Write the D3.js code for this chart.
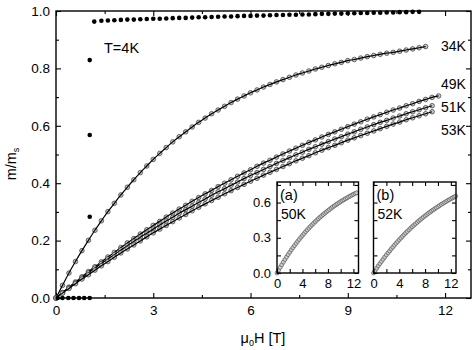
<!DOCTYPE html>
<html><head><meta charset="utf-8">
<script src="https://cdn.jsdelivr.net/npm/d3@7"></script>
<style>body{margin:0;background:#fff}svg{display:block;font-family:"Liberation Sans",Arial,sans-serif}</style>
</head><body><svg width="474" height="350"></svg>
<script>
// ---- data ----
// main panel: field grid step 0.2 T starting at 0
const mainStep = 0.2;
const m34K = [0,.044,.087,.127,.165,.201,.236,.269,.301,.330,.359,.386,.412,.437,.460,.483,.504,.524,.544,.562,.579,.596,.612,.627,.642,.655,.668,.681,.693,.704,.715,.725,.735,.744,.753,.761,.769,.777,.784,.791,.798,.804,.810,.816,.821,.827,.831,.836,.841,.845,.849,.853,.856,.860,.864,.868,.872,.876];
const m49K = [0,.019,.038,.056,.074,.092,.109,.126,.143,.159,.176,.192,.207,.223,.238,.253,.267,.282,.296,.310,.323,.337,.350,.363,.375,.388,.400,.412,.424,.436,.447,.459,.470,.480,.491,.502,.512,.522,.532,.542,.551,.561,.570,.579,.588,.597,.606,.614,.623,.631,.639,.647,.655,.662,.670,.677,.685,.692,.699,.704];
const m51K = [0,.018,.036,.053,.070,.087,.104,.120,.136,.151,.167,.182,.197,.212,.226,.240,.254,.268,.281,.295,.308,.320,.333,.345,.358,.370,.381,.393,.404,.416,.427,.437,.448,.458,.469,.479,.489,.499,.508,.518,.527,.536,.545,.554,.562,.571,.579,.588,.596,.604,.612,.619,.627,.634,.642,.649,.656,.663,.670];
const m53K = [0,.017,.033,.050,.066,.081,.097,.112,.127,.142,.157,.171,.185,.199,.213,.227,.240,.253,.266,.279,.291,.304,.316,.328,.340,.351,.363,.374,.385,.396,.407,.417,.428,.438,.448,.458,.468,.478,.487,.496,.506,.515,.524,.532,.541,.550,.558,.566,.574,.582,.590,.598,.606,.613,.621,.628,.635,.642,.649];
const curveLabels = ["34K","49K","51K","53K"];
// T = 4K (solid dots)
const h4K = [0.05,0.2,0.38,0.54,0.71,0.87,1.04,1.04,1.04,1.04,1.18,1.4,1.6,1.8,2.0,2.2,2.4,2.6,2.8,3.0,3.2,3.4,3.6,3.8,4.0,4.2,4.4,4.6,4.8,5.0,5.2,5.4,5.6,5.8,6.0,6.2,6.4,6.6,6.8,7.0,7.2,7.4,7.6,7.8,8.0,8.2,8.4,8.6,8.8,9.0,9.2,9.4,9.6,9.8,10.0,10.2,10.4,10.6,10.8,11.0,11.2];
const m4K = [0,0,0,0,0,0,0,.283,.568,.829,.963,.966,.967,.968,.969,.970,.970,.971,.972,.973,.973,.974,.975,.976,.976,.977,.978,.978,.979,.980,.981,.981,.982,.983,.983,.984,.984,.985,.986,.986,.987,.987,.988,.988,.989,.990,.990,.991,.991,.992,.992,.993,.993,.994,.994,.995,.995,.996,.996,.997,.997];
// insets: field grid step 0.25 T
const insetStep = 0.25;
const m50K = [0,.024,.048,.071,.093,.115,.136,.157,.177,.197,.216,.234,.252,.270,.287,.304,.320,.336,.352,.367,.382,.396,.410,.423,.437,.450,.462,.474,.486,.498,.509,.520,.531,.541,.552,.562,.571,.581,.590,.599,.608,.616,.624,.632,.640,.648,.655,.663,.670,.677,.683];
const m52K = [0,.021,.041,.061,.080,.099,.118,.136,.154,.171,.188,.205,.221,.237,.253,.268,.284,.298,.313,.327,.341,.354,.368,.381,.394,.406,.418,.430,.442,.454,.465,.476,.487,.497,.508,.518,.528,.537,.547,.556,.565,.574,.583,.592,.600,.608,.617,.624,.632,.640,.647,.654];
const mainXTicks = [0,3,6,9,12];
const mainYTicks = [0,0.2,0.4,0.6,0.8,1.0];
const insetXTicks = [0,4,8,12];
const insetYTicks = [0,0.3,0.6];

// ---- drawing ----
const svg = d3.select("svg");
const toPts = (arr, step) => arr.map((m,i)=>({h:i*step, m}));

function frame(g, xs, ys, opt){
  const [x0,x1]=xs.range(), [y0,y1]=ys.range();
  const style = sel => { sel.select(".domain").remove(); sel.attr("font-family",null).attr("font-size",opt.fs).selectAll("line").attr("stroke","#000").attr("stroke-width",1.1); sel.selectAll("text").attr("fill","#000"); };
  g.append("g").attr("transform",`translate(0,${y0})`).call(d3.axisBottom(xs).tickValues(opt.xMaj).tickSize(-opt.maj).tickPadding(opt.xpad).tickFormat(d3.format("d"))).call(style);
  g.append("g").attr("transform",`translate(0,${y0})`).call(d3.axisBottom(xs).tickValues(opt.xMin).tickSize(-opt.min).tickFormat("")).call(style);
  g.append("g").attr("transform",`translate(0,${y1})`).call(d3.axisTop(xs).tickValues(opt.xMaj).tickSize(-opt.maj).tickFormat("")).call(style);
  g.append("g").attr("transform",`translate(0,${y1})`).call(d3.axisTop(xs).tickValues(opt.xMin).tickSize(-opt.min).tickFormat("")).call(style);
  g.append("g").attr("transform",`translate(${x0},0)`).call(d3.axisLeft(ys).tickValues(opt.yMaj).tickSize(-opt.maj).tickPadding(opt.ypad).tickFormat(opt.showY?d3.format(".1f"):"")).call(style);
  g.append("g").attr("transform",`translate(${x0},0)`).call(d3.axisLeft(ys).tickValues(opt.yMin).tickSize(-opt.min).tickFormat("")).call(style);
  g.append("g").attr("transform",`translate(${x1},0)`).call(d3.axisRight(ys).tickValues(opt.yMaj).tickSize(-opt.maj).tickFormat("")).call(style);
  g.append("g").attr("transform",`translate(${x1},0)`).call(d3.axisRight(ys).tickValues(opt.yMin).tickSize(-opt.min).tickFormat("")).call(style);
  g.append("rect").attr("x",x0).attr("y",y1).attr("width",x1-x0).attr("height",y0-y1).attr("fill","none").attr("stroke","#000").attr("stroke-width",1.4);
}

// main panel
const x = d3.scaleLinear().domain([0,12.8]).range([56,471]);
const y = d3.scaleLinear().domain([0,1]).range([298,11]);
const main = svg.append("g");
frame(main, x, y, {xMaj:mainXTicks, xMin:[1.5,4.5,7.5,10.5], yMaj:mainYTicks, yMin:[0.1,0.3,0.5,0.7,0.9], maj:5, min:3, xpad:7, ypad:6, showY:true, fs:13.5});

const line = d3.line().x(d=>x(d.h)).y(d=>y(d.m)).curve(d3.curveMonotoneX);
[m34K,m49K,m51K,m53K].forEach(s=>{
  const pts = toPts(s, mainStep);
  main.append("g").selectAll("circle").data(pts).join("circle")
    .attr("cx",d=>x(d.h)).attr("cy",d=>y(d.m)).attr("r",2.3)
    .attr("fill","#c8c8c8").attr("stroke","#333").attr("stroke-width",0.7);
  main.append("path").attr("d",line(pts)).attr("fill","none").attr("stroke","#000").attr("stroke-width",1.2);
});
main.append("g").selectAll("circle").data(h4K.map((h,i)=>({h,m:m4K[i]}))).join("circle")
  .attr("cx",d=>x(d.h)).attr("cy",d=>y(d.m)).attr("r",2.3).attr("fill","#000");

main.append("text").attr("x",104).attr("y",53).attr("font-size",14.5).text("T=4K");
const labPos = [[441,51],[441,89],[441,112],[441,135]];
curveLabels.forEach((t,i)=>main.append("text").attr("x",labPos[i][0]).attr("y",labPos[i][1]).attr("font-size",14).text(t));

// axis titles
const yl = svg.append("text").attr("transform","translate(16,164) rotate(-90)").attr("text-anchor","middle").attr("font-size",14.5);
yl.append("tspan").text("m/m");
yl.append("tspan").attr("font-size",9).attr("dy",3).text("s");
const xl = svg.append("text").attr("x",263).attr("y",343).attr("text-anchor","middle").attr("font-size",14.5);
xl.append("tspan").text("μ");
xl.append("tspan").attr("font-size",9).attr("dy",3).text("0");
xl.append("tspan").attr("dy",-3).text("H [T]");

// insets
function inset(x0,x1,data,tag,temp,showY){
  const xs = d3.scaleLinear().domain([0,12.8]).range([x0,x1]);
  const ys = d3.scaleLinear().domain([0,0.775]).range([273,182]);
  const g = svg.append("g");
  g.append("rect").attr("x",x0).attr("y",182).attr("width",x1-x0).attr("height",91).attr("fill","#fff");
  const pts = toPts(data, insetStep);
  g.append("g").selectAll("circle").data(pts).join("circle")
    .attr("cx",d=>xs(d.h)).attr("cy",d=>ys(d.m)).attr("r",2)
    .attr("fill","#ccc").attr("stroke","#444").attr("stroke-width",0.6);
  frame(g, xs, ys, {xMaj:insetXTicks, xMin:[2,6,10], yMaj:insetYTicks, yMin:[0.15,0.45,0.75], maj:4, min:4, xpad:6, ypad:6, showY, fs:13});
  g.append("text").attr("x",x0+3).attr("y",200).attr("font-size",14.5).text(tag);
  g.append("text").attr("x",x0+4).attr("y",219).attr("font-size",14).text(temp);
}
inset(277,358.5,m50K,"(a)","50K",true);
inset(373.5,456,m52K,"(b)","52K",false);
</script></body></html>
